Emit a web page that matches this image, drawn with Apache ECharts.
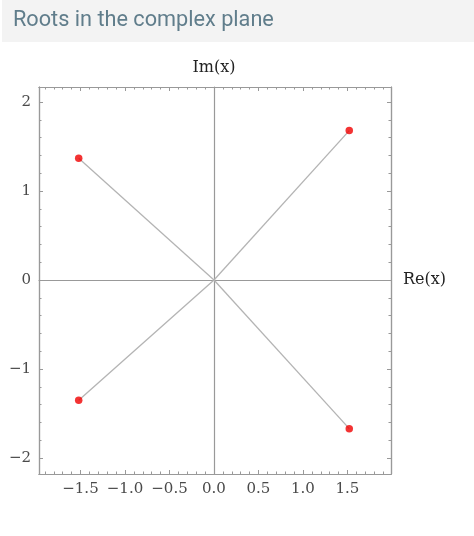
<!DOCTYPE html>
<html>
<head>
<meta charset="utf-8">
<script src="https://cdn.jsdelivr.net/npm/echarts@6/dist/echarts.min.js"></script>
<style>
html,body{margin:0;padding:0;background:#fff;}
#chart{width:474px;height:536px;}
</style>
</head>
<body>
<div id="chart"></div>
<script>
// ---- data ----
const titleText = 'Roots in the complex plane';
const rootRe = [1.52, -1.52, -1.52, 1.52];
const rootIm = [1.68, 1.37, -1.35, -1.67];
const xName = 'Re(x)';
const yName = 'Im(x)';
const xRange = [-1.966, 1.989];
const yRange = [-2.18, 2.17];
const xMajor = 0.5, xMinor = 0.1;
const yMajor = 1, yMinor = 0.2;

const frameColor = '#999';
const serif = 'DejaVu Serif';

function fmtNum(v, step, digits) {
  const k = v / step;
  if (Math.abs(k - Math.round(k)) > 1e-6) return '';
  const r = Math.round(k) * step;
  const s = Math.abs(r).toFixed(digits);
  return (r < -1e-9 ? '\u2212' : '') + s;
}

function frameAxis(position, range, interval, tickLen, labelFn) {
  return {
    type: 'value',
    position: position,
    min: range[0], max: range[1],
    minInterval: interval, maxInterval: interval,
    splitNumber: Math.round((range[1] - range[0]) / interval),
    axisLine: { show: true, onZero: false, lineStyle: { color: frameColor, width: 1.2 } },
    axisTick: { show: true, inside: true, length: tickLen, lineStyle: { color: frameColor, width: 1 } },
    axisLabel: labelFn ? {
      show: true, formatter: labelFn, color: '#4a4a4a', fontFamily: serif, fontSize: 15, margin: 8,
      showMinLabel: true, showMaxLabel: true, hideOverlap: false
    } : { show: false },
    splitLine: { show: false }
  };
}

function zeroAxis(name, nameGap, idx, range) {
  return {
    type: 'value',
    min: range[0], max: range[1],
    axisLine: { show: true, onZero: true, onZeroAxisIndex: idx, lineStyle: { color: frameColor, width: 1.2 } },
    axisTick: { show: false },
    axisLabel: { show: false },
    splitLine: { show: false },
    name: name,
    nameLocation: 'end',
    nameGap: nameGap,
    nameTextStyle: { color: '#222', fontFamily: serif, fontSize: 16 }
  };
}

const xAxes = [
  frameAxis('bottom', xRange, xMinor, 2.5, null),
  frameAxis('bottom', xRange, xMajor, 4, v => fmtNum(v, xMajor, 1)),
  frameAxis('top', xRange, xMinor, 2.5, null),
  frameAxis('top', xRange, xMajor, 4, null),
  zeroAxis(xName, 12, 4, xRange)
];
const yAxes = [
  frameAxis('left', yRange, yMinor, 2.5, null),
  frameAxis('left', yRange, yMajor, 4, v => fmtNum(v, yMajor, 0)),
  frameAxis('right', yRange, yMinor, 2.5, null),
  frameAxis('right', yRange, yMajor, 4, null),
  zeroAxis(yName, 11, 4, yRange)
];

const series = [];
rootRe.forEach((re, i) => {
  series.push({
    type: 'line',
    xAxisIndex: 0, yAxisIndex: 0,
    data: [[0, 0], [re, rootIm[i]]],
    symbol: 'none',
    lineStyle: { color: '#b4b4b4', width: 1.3 },
    silent: true, z: 3
  });
});
series.push({
  type: 'scatter',
  xAxisIndex: 0, yAxisIndex: 0,
  data: rootRe.map((re, i) => [re, rootIm[i]]),
  symbol: 'circle', symbolSize: 7.5,
  itemStyle: { color: '#f00000' },
  z: 5
});

const chart = echarts.init(document.getElementById('chart'), null, { renderer: 'canvas' });
chart.setOption({
  animation: false,
  backgroundColor: '#fff',
  graphic: [{
    type: 'rect', left: 2, top: 0, z: -1,
    shape: { width: 472, height: 42 },
    style: { fill: '#f3f3f3' }
  }],
  title: {
    text: titleText, left: 8, top: 5,
    textStyle: { color: '#607d8b', fontFamily: 'Roboto', fontWeight: 'normal', fontSize: 21.7 }
  },
  grid: { left: 39, right: 83, top: 87, bottom: 62, containLabel: false },
  xAxis: xAxes,
  yAxis: yAxes,
  series: series
});
</script>
</body>
</html>
